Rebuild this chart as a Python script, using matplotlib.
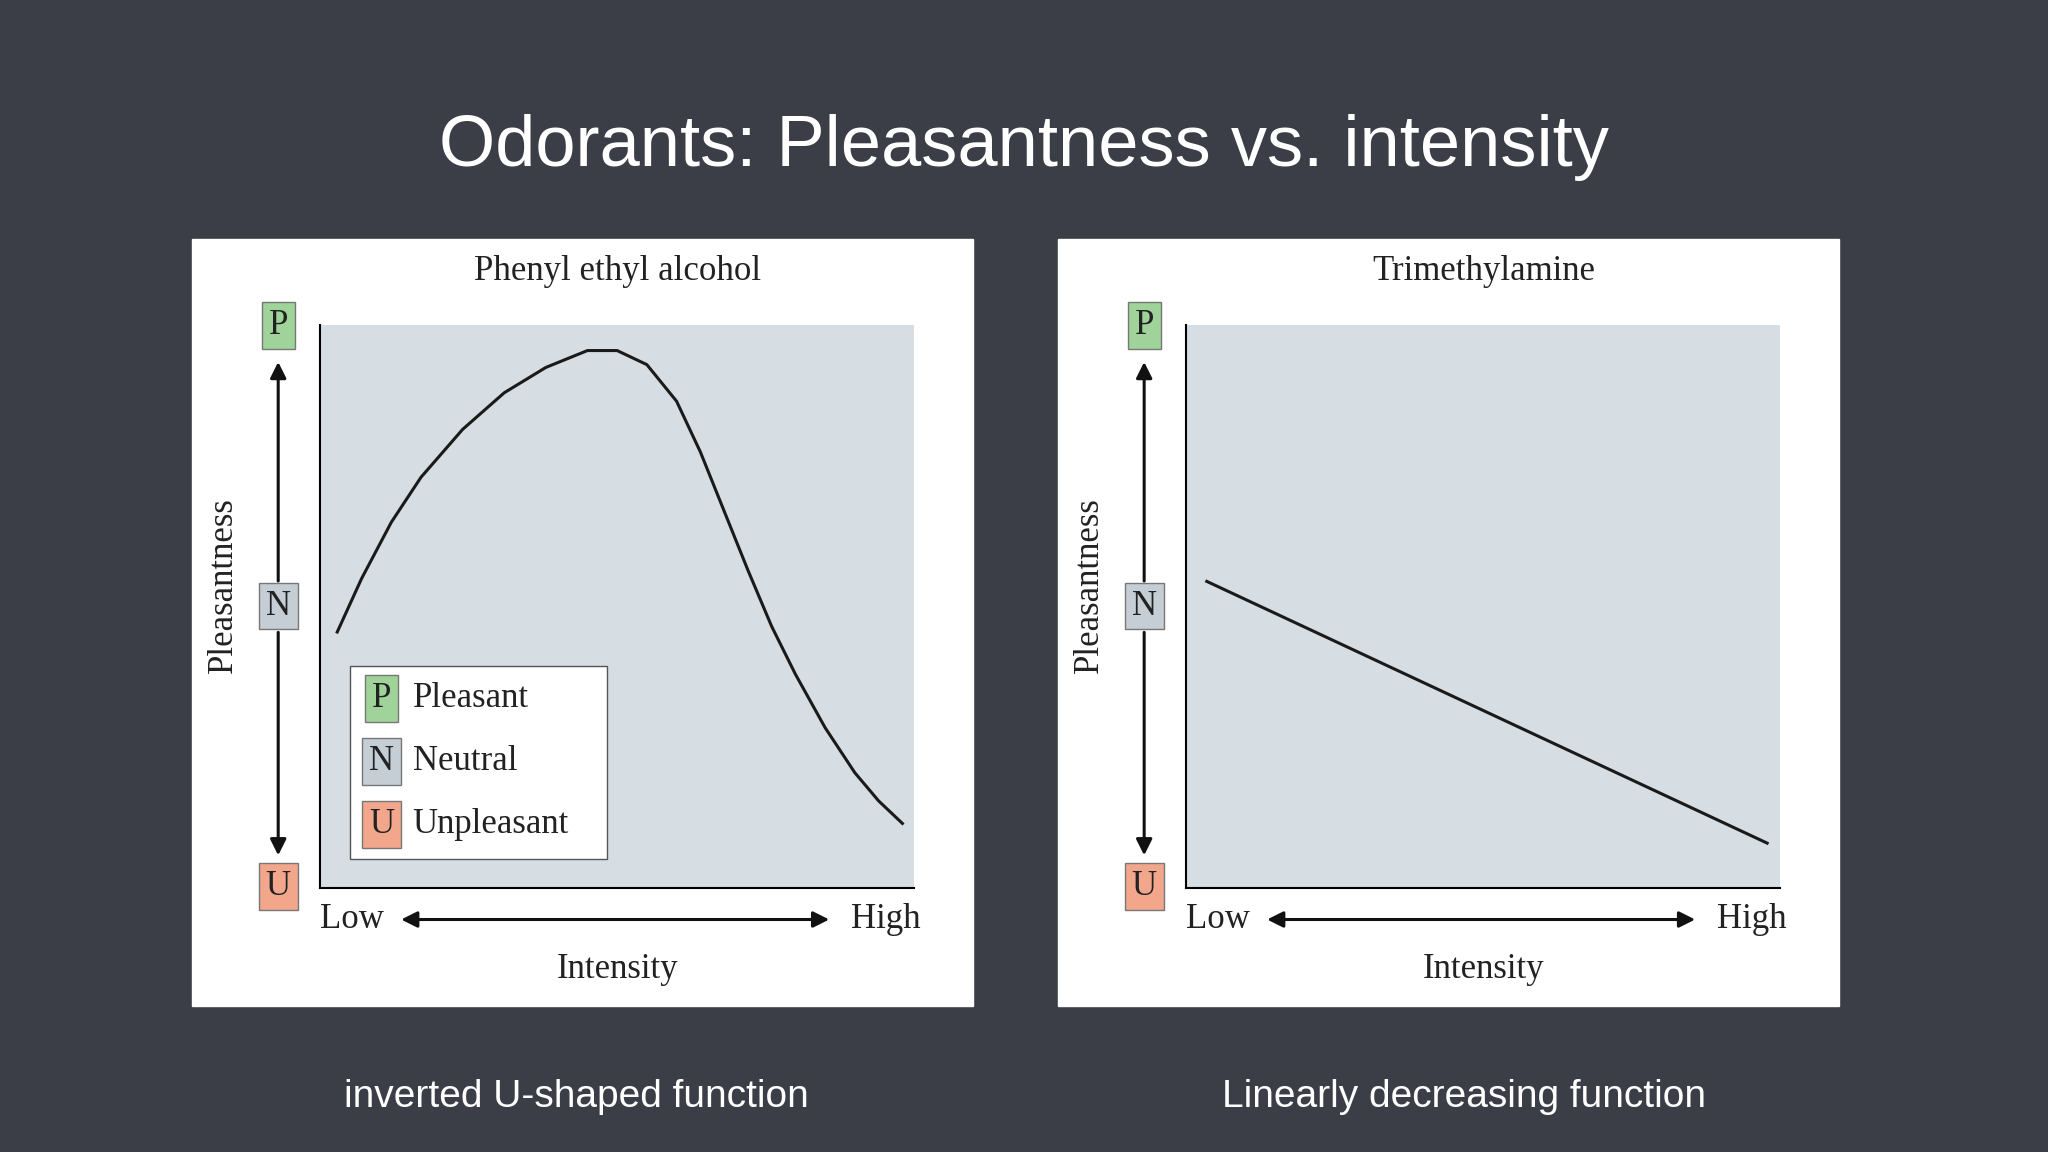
import matplotlib
matplotlib.use("Agg")
import matplotlib.pyplot as plt
from matplotlib.patches import Rectangle, FancyArrowPatch

title = "Odorants: Pleasantness vs. intensity"
panel_titles = ["Phenyl ethyl alcohol", "Trimethylamine"]
captions = ["inverted U-shaped function", "Linearly decreasing function"]
# Pleasantness scale: U=-1, N=0, P=1 ; intensity 0..1
phenyl_x = [0.029, 0.07, 0.12, 0.17, 0.24, 0.31, 0.38, 0.45, 0.50, 0.55, 0.60, 0.64, 0.68, 0.72, 0.76, 0.80, 0.85, 0.90, 0.94, 0.98]
phenyl_y = [-0.09, 0.10, 0.30, 0.46, 0.63, 0.76, 0.85, 0.91, 0.91, 0.86, 0.73, 0.55, 0.34, 0.13, -0.07, -0.24, -0.43, -0.59, -0.69, -0.77]
tma_x = [0.035, 0.978]
tma_y = [0.09, -0.84]
legend_labels = ["Pleasant", "Neutral", "Unpleasant"]
letters = ["P", "N", "U"]
box_colors = ["#9fd39a", "#c5ced4", "#f2a78c"]

W, H = 1568, 882
def fx(px): return px / W
def fy(py): return 1 - py / H

fig = plt.figure(figsize=(20.48, 11.52), dpi=100)
fig.patch.set_facecolor("#3b3e46")
serif = "Liberation Serif"
fig.text(0.5, fy(113), title, color="white", fontsize=52, ha="center", va="center", family="Liberation Sans")

for i, (x0, cx, cap) in enumerate([(147, 441, captions[0]), (810, 1121, captions[1])]):
    fig.patches.append(Rectangle((fx(x0), fy(770)), fx(598), (770 - 183) / H, transform=fig.transFigure,
                                 color="white", zorder=-5))
    fig.text(fx(cx), fy(840), cap, color="white", fontsize=28, ha="center", va="center", family="Liberation Sans")
    ax0 = x0 + 98
    ax = fig.add_axes([fx(ax0), fy(680), fx(455), 431 / H], zorder=2)
    ax.set_facecolor("#d6dee3")
    ax.set_xlim(0, 1); ax.set_ylim(-1, 1)
    ax.set_xticks([]); ax.set_yticks([])
    for s in ["top", "right"]:
        ax.spines[s].set_visible(False)
    for s in ["left", "bottom"]:
        ax.spines[s].set_linewidth(1.5)
    if i == 0:
        ax.plot(phenyl_x, phenyl_y, color="#1a1a1a", lw=2.2)
    else:
        ax.plot(tma_x, tma_y, color="#1a1a1a", lw=2.2)
    fs = 25
    fig.text(fx(x0 + 326), fy(208), panel_titles[i], fontsize=fs, ha="center", va="center", family=serif, color="#222")
    fig.text(fx(x0 + 326), fy(742), "Intensity", fontsize=fs, ha="center", va="center", family=serif, color="#222")
    fig.text(fx(x0 + 24), fy(448), "Pleasantness", fontsize=fs, ha="center", va="center", rotation=90, family=serif, color="#222")
    fig.text(fx(x0 + 98), fy(704), "Low", fontsize=fs, ha="left", va="center", family=serif, color="#222")
    fig.text(fx(x0 + 558), fy(704), "High", fontsize=fs, ha="right", va="center", family=serif, color="#222")
    fig.add_artist(FancyArrowPatch((fx(x0 + 158), fy(704)), (fx(x0 + 490), fy(704)),
        transform=fig.transFigure, arrowstyle="<|-|>", mutation_scale=24, lw=2.2, color="#111"))
    bx = x0 + 66
    fig.add_artist(FancyArrowPatch((fx(bx), fy(275)), (fx(bx), fy(447)),
        transform=fig.transFigure, arrowstyle="<|-", mutation_scale=24, lw=2.2, color="#111"))
    fig.add_artist(FancyArrowPatch((fx(bx), fy(482)), (fx(bx), fy(657)),
        transform=fig.transFigure, arrowstyle="-|>", mutation_scale=24, lw=2.2, color="#111"))
    for L, c, py in zip(letters, box_colors, [249, 464, 679]):
        fig.text(fx(bx), fy(py), L, fontsize=fs, ha="center", va="center", family=serif, color="#222",
                 bbox=dict(boxstyle="square,pad=0.2", fc=c, ec="#777", lw=1))
    if i == 0:
        lx0 = 268
        fig.patches.append(Rectangle((fx(lx0), fy(658)), fx(197), (658 - 510) / H, transform=fig.transFigure,
                                     fc="white", ec="#555", lw=1, zorder=5))
        for L, c, lab, py in zip(letters, box_colors, legend_labels, [535, 583, 631]):
            fig.text(fx(292), fy(py), L, fontsize=fs, ha="center", va="center", family=serif, color="#222", zorder=6,
                     bbox=dict(boxstyle="square,pad=0.2", fc=c, ec="#777", lw=1))
            fig.text(fx(316), fy(py), lab, fontsize=fs, ha="left", va="center", family=serif, color="#222", zorder=6)

fig.savefig("out.png", dpi=100, facecolor=fig.get_facecolor())
